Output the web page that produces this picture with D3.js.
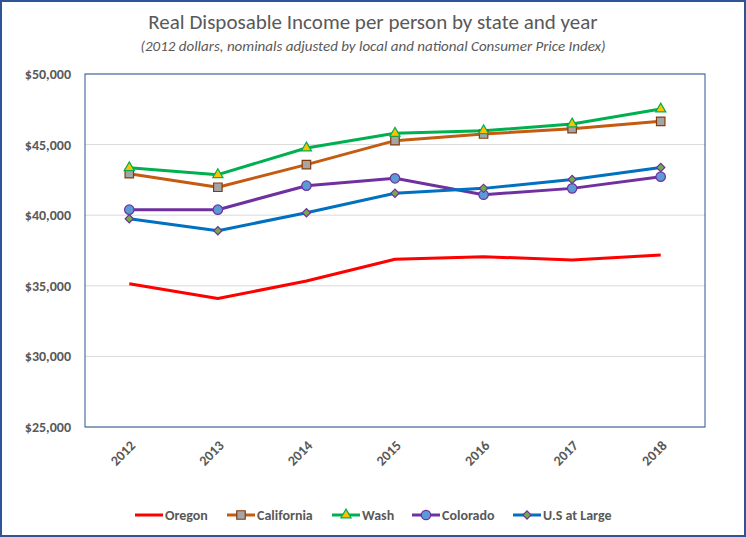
<!DOCTYPE html>
<html>
<head>
<meta charset="utf-8">
<script src="https://cdn.jsdelivr.net/npm/d3@7"></script>
<style>
  body { margin: 0; background: #fff; }
  svg { display: block; font-family: Carlito, Calibri, Lato, sans-serif; }
</style>
</head>
<body>
<div id="chart"></div>
<script>
// data
const years = ["2012", "2013", "2014", "2015", "2016", "2017", "2018"];
const oregon = [35150, 34100, 35340, 36880, 37060, 36830, 37180];
const california = [42940, 41980, 43580, 45280, 45750, 46130, 46650];
const wash = [43360, 42870, 44760, 45800, 45980, 46460, 47520];
const colorado = [40390, 40390, 42090, 42610, 41450, 41900, 42730];
const usAtLarge = [39750, 38900, 40180, 41550, 41900, 42530, 43380];
const yTicks = [25000, 30000, 35000, 40000, 45000, 50000];

const series = [
  { name: "Oregon", values: oregon, color: "#FF0000", marker: null },
  { name: "California", values: california, color: "#C55A11", marker: "square", fill: "#A5A5A5", stroke: "#843C0C" },
  { name: "Wash", values: wash, color: "#00B050", marker: "triangle", fill: "#FFC000", stroke: "#00B050" },
  { name: "Colorado", values: colorado, color: "#7030A0", marker: "circle", fill: "#5B9BD5", stroke: "#7030A0" },
  { name: "U.S at Large", values: usAtLarge, color: "#0070C0", marker: "diamond", fill: "#70AD47", stroke: "#7030A0" }
];

const W = 746, H = 537;
const margin = { top: 74, right: 41, bottom: 110, left: 85 };
const width = W - margin.left - margin.right;
const height = H - margin.top - margin.bottom;

const svg = d3.select("#chart").append("svg")
  .attr("width", W)
  .attr("height", H);

// outer frame
svg.append("rect")
  .attr("x", 1).attr("y", 1)
  .attr("width", W - 2).attr("height", H - 2)
  .attr("fill", "#fff")
  .attr("stroke", "#2F5597")
  .attr("stroke-width", 2);

// titles
svg.append("text")
  .attr("x", W / 2).attr("y", 29)
  .attr("text-anchor", "middle")
  .attr("font-size", 21)
  .attr("fill", "#595959")
  .text("Real Disposable Income per person by state and year");

svg.append("text")
  .attr("x", W / 2).attr("y", 51)
  .attr("text-anchor", "middle")
  .attr("font-size", 15)
  .attr("font-style", "italic")
  .attr("fill", "#595959")
  .text("(2012 dollars, nominals adjusted by local and national Consumer Price Index)");

const g = svg.append("g")
  .attr("transform", "translate(" + margin.left + "," + margin.top + ")");

const x = d3.scalePoint()
  .domain(years)
  .range([0, width])
  .padding(0.5);

const y = d3.scaleLinear()
  .domain([25000, 50000])
  .range([height, 0]);

// gridlines
g.selectAll(".grid")
  .data(yTicks)
  .enter().append("line")
  .attr("class", "grid")
  .attr("x1", 0).attr("x2", width)
  .attr("y1", d => y(d)).attr("y2", d => y(d))
  .attr("stroke", "#D9D9D9")
  .attr("stroke-width", 1);

// plot area border
g.append("rect")
  .attr("width", width).attr("height", height)
  .attr("fill", "none")
  .attr("stroke", "#2F5597")
  .attr("stroke-width", 1);

// y axis
const yAxis = g.append("g")
  .call(d3.axisLeft(y).tickValues(yTicks).tickSize(0).tickPadding(14)
    .tickFormat(d => "$" + d3.format(",")(d)));
yAxis.select(".domain").remove();
yAxis.selectAll("text")
  .attr("font-family", "Carlito, Calibri, Lato, sans-serif")
  .attr("font-size", 14)
  .attr("font-weight", "bold")
  .attr("fill", "#595959");

// x axis
const xAxis = g.append("g")
  .attr("transform", "translate(0," + height + ")")
  .call(d3.axisBottom(x).tickSize(0).tickPadding(0));
xAxis.select(".domain").remove();
xAxis.selectAll("text")
  .attr("font-family", "Carlito, Calibri, Lato, sans-serif")
  .attr("font-size", 14)
  .attr("font-weight", "bold")
  .attr("fill", "#595959")
  .attr("text-anchor", "end")
  .attr("dy", "0.35em")
  .attr("transform", "translate(3,16) rotate(-45)");

// lines
const line = d3.line()
  .x((d, i) => x(years[i]))
  .y(d => y(d));

const symbolType = {
  square: d3.symbolSquare,
  triangle: d3.symbolTriangle,
  circle: d3.symbolCircle,
  diamond: d3.symbolSquare
};
const symbolSize = { square: 72, triangle: 45, circle: 70, diamond: 34 };
const symbolRotate = { square: 0, triangle: 0, circle: 0, diamond: 45 };

series.forEach(s => {
  g.append("path")
    .datum(s.values)
    .attr("fill", "none")
    .attr("stroke", s.color)
    .attr("stroke-width", 3)
    .attr("stroke-linejoin", "round")
    .attr("d", line);
});

series.forEach(s => {
  if (!s.marker) return;
  g.selectAll(".m-" + s.marker)
    .data(s.values)
    .enter().append("path")
    .attr("class", "m-" + s.marker)
    .attr("transform", (d, i) => "translate(" + x(years[i]) + "," + y(d) + ") rotate(" + symbolRotate[s.marker] + ")")
    .attr("d", d3.symbol().type(symbolType[s.marker]).size(symbolSize[s.marker]))
    .attr("fill", s.fill)
    .attr("stroke", s.stroke)
    .attr("stroke-width", 1.2);
});

// legend
const legendX = [135, 227, 332, 412, 513];
const legend = svg.append("g").attr("transform", "translate(0,515)");
series.forEach((s, i) => {
  const lg = legend.append("g").attr("transform", "translate(" + legendX[i] + ",0)");
  lg.append("line")
    .attr("x1", 0).attr("x2", 28)
    .attr("stroke", s.color)
    .attr("stroke-width", 3);
  if (s.marker) {
    lg.append("path")
      .attr("transform", "translate(14,0) rotate(" + symbolRotate[s.marker] + ")")
      .attr("d", d3.symbol().type(symbolType[s.marker]).size(symbolSize[s.marker]))
      .attr("fill", s.fill)
      .attr("stroke", s.stroke)
      .attr("stroke-width", 1.2);
  }
  lg.append("text")
    .attr("x", 30).attr("y", 0)
    .attr("dy", "0.35em")
    .attr("font-size", 14)
    .attr("font-weight", "bold")
    .attr("fill", "#595959")
    .text(s.name);
});
</script>
</body>
</html>
